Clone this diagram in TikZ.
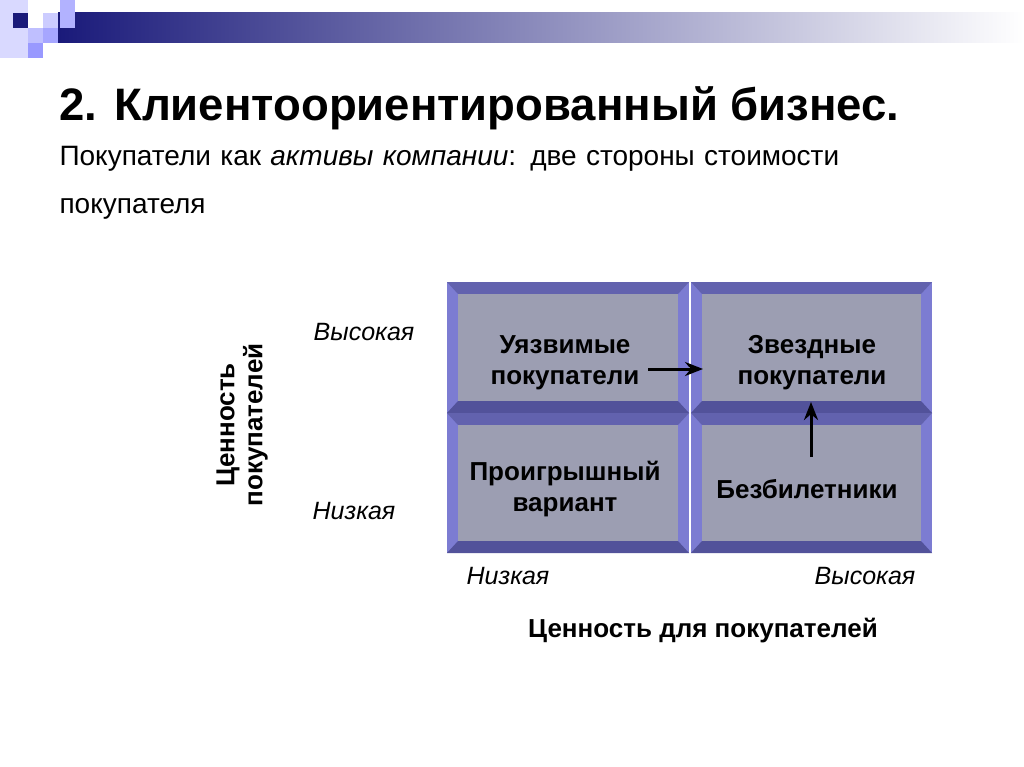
\documentclass[tikz,border=0pt]{standalone}
\usepackage{fontspec}
\setmainfont{Liberation Sans}
\usetikzlibrary{arrows.meta}
\definecolor{face}{HTML}{9C9EB2}
\definecolor{btop}{HTML}{6262AE}
\definecolor{bside}{HTML}{7C7CD2}
\definecolor{bbot}{HTML}{52529A}
\definecolor{navy}{HTML}{1A1A7A}
\newcommand\bevbox[4]{%
 \fill[bside] (#1,#2) rectangle (#3,#4);
 \fill[btop] (#1,#2) -- (#3,#2) -- (#3-11,#2+12) -- (#1+11,#2+12) -- cycle;
 \fill[bbot] (#1,#4) -- (#3,#4) -- (#3-11,#4-12) -- (#1+11,#4-12) -- cycle;
 \fill[face] (#1+11,#2+12) rectangle (#3-11,#4-12);
}
\tikzset{lbl/.style={font=\fontsize{26}{31}\selectfont\bfseries,align=center,text=black},
ax/.style={font=\fontsize{25}{30}\selectfont\itshape},
arr/.style={-{Stealth[length=18pt,width=14pt]},line width=3pt}}
\begin{document}
\begin{tikzpicture}[x=1pt,y=-1pt]
\useasboundingbox (0,0) rectangle (1024,767);
\fill[white] (0,0) rectangle (1024,767);
% header
\shade[left color=navy,right color=white] (58,13) rectangle (1024,43);
\fill[blue!15] (0,0) rectangle (28,58);
\fill[blue!20] (43,13) rectangle (58,28);
\fill[blue!30] (60,0) rectangle (75,28);
\fill[blue!25] (28,28) rectangle (43,43);
\fill[blue!35] (43,28) rectangle (58,43);
\fill[blue!40] (28,43) rectangle (43,58);
\fill[navy] (13,13) rectangle (28,28);
% title
\node[anchor=west,font=\fontsize{45.5}{50}\selectfont\bfseries] (t) at (56,108) {2. Клиентоориентированный бизнес.};
\node[anchor=north west,font=\fontsize{28}{48}\selectfont,align=left,text width=900pt] (s) at (56,143) {Покупатели как \textit{активы компании}: две стороны стоимости\\покупателя};
% boxes
\bevbox{447}{282}{689}{413}
\bevbox{691}{282}{932}{413}
\bevbox{447}{413}{689}{553}
\bevbox{691}{413}{932}{553}
\node[lbl] (a) at (565,363) {Уязвимые\\покупатели};
\node[lbl] (b) at (812,363) {Звездные\\покупатели};
\node[lbl] (c) at (565,489) {Проигрышный\\вариант};
\node[lbl] (d) at (807,489) {Безбилетники};
\coordinate (as) at (648,369); \coordinate (ae) at (703,369);
\draw[arr] (as) -- (ae);
\coordinate (vs) at (811,457); \coordinate (ve) at (811,402);
\draw[arr] (vs) -- (ve);
% axes
\node[ax] (yh) at (364,332) {Высокая};
\node[ax] (yl) at (354,511) {Низкая};
\node[ax] (xl) at (508,576) {Низкая};
\node[ax] (xh) at (865,576) {Высокая};
\node[rotate=90,font=\fontsize{26}{28}\selectfont\bfseries,align=center] (yt) at (242,425) {Ценность\\покупателей};
\node[font=\fontsize{26}{30}\selectfont\bfseries] (xt) at (703,631) {Ценность для покупателей};
\end{tikzpicture}
\end{document}
